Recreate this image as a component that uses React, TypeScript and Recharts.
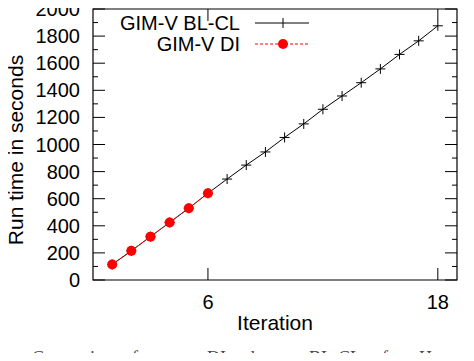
import React from "react";
import { LineChart, Line, XAxis, YAxis, ReferenceArea, Label } from "recharts";

const iterations = [1, 2, 3, 4, 5, 6, 7, 8, 9, 10, 11, 12, 13, 14, 15, 16, 17, 18];
const blClTimes = [115, 215, 320, 425, 530, 640, 745, 848, 945, 1052, 1152, 1260, 1358, 1456, 1558, 1665, 1765, 1876];
const diTimes = [115, 215, 320, 425, 530, 640];

const xTicks = [6, 18];
const yTicks = Array.from({ length: 21 }, (_, i) => i * 100);

const data = iterations.map((it, i) => ({
  iteration: it,
  blcl: blClTimes[i],
  di: i < diTimes.length ? diTimes[i] : null,
}));

// caption words under the figure (cut off by the image edge)
const captionWords: [string, number, boolean][] = [
  ["5.", -1, false],
  ["Comparison", 32, false],
  ["of", 123, false],
  ["GIM-V", 157, true],
  ["DI", 207, false],
  ["and", 229, false],
  ["GIM-V", 259, true],
  ["BL-CL", 309, false],
  ["for", 382, false],
  ["Hcc", 419, false],
];

// plot box (px)
const LEFT = 93;
const RIGHT = 457;
const TOP = 9;
const BOTTOM = 280;
const FONT = "'Liberation Sans', Arial, Helvetica, sans-serif";
const SERIF = "'Liberation Serif', 'Times New Roman', serif";

const YTick = (props: any) => {
  const { y, payload } = props;
  const major = payload.value % 200 === 0;
  const len = major ? 12 : 5;
  return (
    <g>
      <line x1={LEFT} x2={LEFT + len} y1={y} y2={y} stroke="#000" strokeWidth={1} />
      <line x1={RIGHT - len} x2={RIGHT} y1={y} y2={y} stroke="#000" strokeWidth={1} />
      {major && (
        <text x={80} y={y} textAnchor="end" dominantBaseline="central" fontSize={20} fontFamily={FONT} fill="#000">
          {payload.value}
        </text>
      )}
    </g>
  );
};

const XTick = (props: any) => {
  const { x, payload } = props;
  return (
    <g>
      <line x1={x} x2={x} y1={BOTTOM} y2={BOTTOM - 12} stroke="#000" strokeWidth={1} />
      <line x1={x} x2={x} y1={TOP} y2={TOP + 12} stroke="#000" strokeWidth={1} />
      <text x={x} y={309} textAnchor="middle" fontSize={20} fontFamily={FONT} fill="#000">
        {payload.value}
      </text>
    </g>
  );
};

const PlusDot = (props: any) => {
  const { cx, cy } = props;
  if (cx == null || cy == null) return null;
  return (
    <path d={`M${cx - 5},${cy}H${cx + 5}M${cx},${cy - 5}V${cy + 5}`} stroke="#000" strokeWidth={1} fill="none" />
  );
};

export default function App() {
  return (
    <div style={{ position: "relative", width: 474, height: 361, margin: -8, overflow: "hidden", background: "#fff" }}>
      <LineChart
        width={474}
        height={361}
        data={data}
        margin={{ top: TOP, right: 474 - RIGHT, bottom: 361 - BOTTOM - 40, left: LEFT - 60 }}
      >
        <XAxis
          dataKey="iteration"
          type="number"
          domain={[0, 19]}
          ticks={xTicks}
          tick={<XTick />}
          tickLine={false}
          axisLine={false}
          height={40}
          interval={0}
        >
          <Label
            content={() => (
              <text x={275} y={330} textAnchor="middle" fontSize={21} fontFamily={FONT} fill="#000">
                Iteration
              </text>
            )}
          />
        </XAxis>
        <YAxis
          type="number"
          domain={[0, 2000]}
          ticks={yTicks}
          tick={<YTick />}
          tickLine={false}
          axisLine={false}
          width={60}
          interval={0}
        >
          <Label
            content={() => (
              <text
                x={15}
                y={150}
                transform="rotate(-90 15 150)"
                textAnchor="middle"
                dominantBaseline="central"
                fontSize={21}
                fontFamily={FONT}
                fill="#000"
              >
                Run time in seconds
              </text>
            )}
          />
        </YAxis>
        <ReferenceArea x1={0} x2={19} y1={0} y2={2000} fill="none" stroke="#000" strokeWidth={1.2} fillOpacity={0} />
        <Line dataKey="blcl" stroke="#000" strokeWidth={1} dot={<PlusDot />} isAnimationActive={false} />
        <Line
          dataKey="di"
          stroke="#ff0000"
          strokeWidth={1}
          strokeDasharray="3 2"
          dot={{ r: 5, fill: "#ff0000", stroke: "none" }}
          isAnimationActive={false}
          connectNulls={false}
        />
      </LineChart>
      <svg
        width={474}
        height={361}
        style={{ position: "absolute", left: 0, top: 0, pointerEvents: "none" }}
      >
        {/* legend */}
        <text x={240} y={23} textAnchor="end" dominantBaseline="central" fontSize={20} fontFamily={FONT}>
          GIM-V BL-CL
        </text>
        <line x1={255} x2={309} y1={23} y2={23} stroke="#000" strokeWidth={1} />
        <path d="M283,18V28" stroke="#000" strokeWidth={1} />
        <text x={240} y={44} textAnchor="end" dominantBaseline="central" fontSize={20} fontFamily={FONT}>
          GIM-V DI
        </text>
        <line x1={255} x2={309} y1={44} y2={44} stroke="#ff0000" strokeWidth={1} strokeDasharray="3 2" />
        <circle cx={283} cy={44} r={5} fill="#ff0000" />
        {/* caption */}
        {captionWords.map(([w, x, sc], i) => (
          <text
            key={i}
            x={x}
            y={364}
            fontSize={sc ? 14 : 18}
            fontFamily={SERIF}
            fill="#444"
          >
            {w}
          </text>
        ))}
      </svg>
    </div>
  );
}
